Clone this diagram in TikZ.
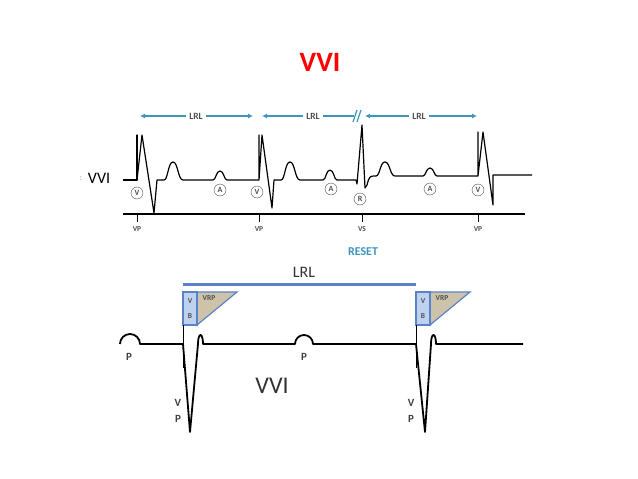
\documentclass[tikz,border=0pt]{standalone}
\usepackage{fontspec}
\setmainfont{Carlito}
\usetikzlibrary{arrows.meta}
\definecolor{arr}{RGB}{60,150,190}
\definecolor{bar}{RGB}{90,130,200}
\definecolor{vb}{RGB}{190,210,240}
\definecolor{vrp}{RGB}{205,195,170}
\definecolor{lbl}{RGB}{80,80,80}
\tikzset{
  ecg/.style={line width=1.2pt, line join=round},
  ecg2/.style={line width=1.8pt, line join=round},
  lrlarrow/.style={arr, line width=1.2pt, -{Latex[length=5pt,width=5pt]}},
  circ/.style={circle, draw=lbl, inner sep=0pt, minimum size=12pt, font=\fontsize{8}{8}\selectfont\bfseries, text=lbl},
  small/.style={font=\fontsize{9.5}{9.5}\selectfont\bfseries, text=lbl},
  tiny/.style={font=\fontsize{7.5}{7.5}\selectfont\bfseries, text=lbl},
  mid/.style={font=\fontsize{11}{11}\selectfont\bfseries, text=black!75},
}
\begin{document}
\begin{tikzpicture}[x=1pt,y=-1pt]
\useasboundingbox[fill=white] (0,0) rectangle (638,479);
\node[text=red, font=\fontsize{28}{28}\selectfont\bfseries] (title) at (320,62) {VVI};
% top strip
\node[font=\fontsize{16}{16}\selectfont] (vvi) at (99,178) {VVI};
\node[font=\fontsize{8}{8}\selectfont, text=gray] (dots) at (81,179) {:};
\draw[ecg] (123,180) -- (137,180) -- (137,135) -- (137,180);
\draw[ecg] (137,180) -- (142,135) -- (154,213) -- (157,180)
  -- (164,180) .. controls (168,180) and (168,162) .. (173,162) .. controls (178,162) and (178,180) .. (183,180)
  -- (213,180) .. controls (216,180) and (216,171) .. (220,171) .. controls (224,171) and (224,180) .. (227,180)
  -- (259,180) -- (259,135) -- (259,180) -- (262,135) -- (272,208) -- (274,180)
  -- (281,180) .. controls (285,180) and (285,162) .. (290,162) .. controls (295,162) and (295,180) .. (300,180)
  -- (323,180) .. controls (326,180) and (326,170) .. (330,170) .. controls (334,170) and (334,180) .. (337,180)
  -- (356,180) -- (357,184) -- (362,125) -- (365,188) -- (367,185) .. controls (369,177) and (370,176) .. (374,176)
  -- (376,176) .. controls (380,176) and (380,162) .. (385,162) .. controls (390,162) and (390,176) .. (395,176)
  -- (423,176) .. controls (426,176) and (426,168) .. (430,168) .. controls (434,168) and (434,176) .. (437,176)
  -- (478,176) -- (478,132) -- (478,176) -- (483,132) -- (493,205) -- (493,175) -- (532,175);
\node[circ] (c1) at (137,193) {V};
\node[circ] (c2) at (220,190) {A};
\node[circ] (c3) at (257,192) {V};
\node[circ] (c4) at (331,189) {A};
\node[circ] (c5) at (360,199) {R};
\node[circ] (c6) at (430,189) {A};
\node[circ] (c7) at (478,190) {V};
\coordinate (axL) at (123,214); \coordinate (axR) at (525,214);
\draw[line width=1.8pt] (axL) -- (axR);
\foreach \x/\t/\n in {137/VP/t1,259/VP/t2,362/VS/t3,478/VP/t4}{
  \draw[line width=1pt] (\x,214) -- (\x,222);
  \node[tiny] (\n) at (\x,229) {\t};
}
\node[text=arr, font=\fontsize{12}{12}\selectfont\bfseries] (reset) at (363,252) {RESET};
% LRL arrows
\node[small] (l1) at (196,116) {LRL};
\node[small] (l2) at (313,116) {LRL};
\node[small] (l3) at (419,116) {LRL};
\coordinate (a1) at (140,116); \coordinate (a2) at (253,116);
\coordinate (a3) at (262,116); \coordinate (a4) at (354,116);
\coordinate (a5) at (365,116); \coordinate (a6) at (477,116);
\draw[lrlarrow] (l1.west) -- (a1);
\draw[lrlarrow] (l1.east) -- (a2);
\draw[lrlarrow] (l2.west) -- (a3);
\draw[arr, line width=1.2pt] (l2.east) -- (a4);
\draw[arr, line width=1.2pt] (353,122) -- (357,110) (357,122) -- (361,110);
\draw[lrlarrow] (l3.west) -- (a5);
\draw[lrlarrow] (l3.east) -- (a6);
% bottom
\node[font=\fontsize{16}{16}\selectfont, text=black!80] (lrlb) at (304,272) {LRL};
\draw[bar, line width=3pt] (183,284) -- (416,284);
\foreach \x in {183,416}{
  \draw[fill=vrp, draw=bar, line width=1.2pt] (\x+14,292) -- (\x+54,292) -- (\x+14,325) -- cycle;
  \draw[fill=vb, draw=bar, line width=1.2pt] (\x,292) rectangle (\x+14,325);
  \node[tiny] at (\x+7,301) {V};
  \node[tiny] at (\x+7,316) {B};
  \node[tiny] at (\x+26,298) {VRP};
  \draw[line width=0.8pt] (\x,325) -- (\x,368);
  \node[mid] at (\x-5,403) {V};
  \node[mid] at (\x-5,419) {P};
}
\draw[ecg2] (120,344) arc[start angle=180, end angle=360, radius=10] -- (183,344) -- (190,432) -- (198,344)
  .. controls (198,332) and (203,332) .. (203,344) -- (295,344) arc[start angle=180, end angle=360, radius=9]
  -- (416,344) -- (425,432) -- (431,344) .. controls (431,332) and (436,332) .. (436,344) -- (523,344);
\node[mid] (p1) at (129,357) {P};
\node[mid] (p2) at (304,357) {P};
\node[font=\fontsize{24}{24}\selectfont, text=black!80] (vvib) at (272,386) {VVI};
\end{tikzpicture}
\end{document}
